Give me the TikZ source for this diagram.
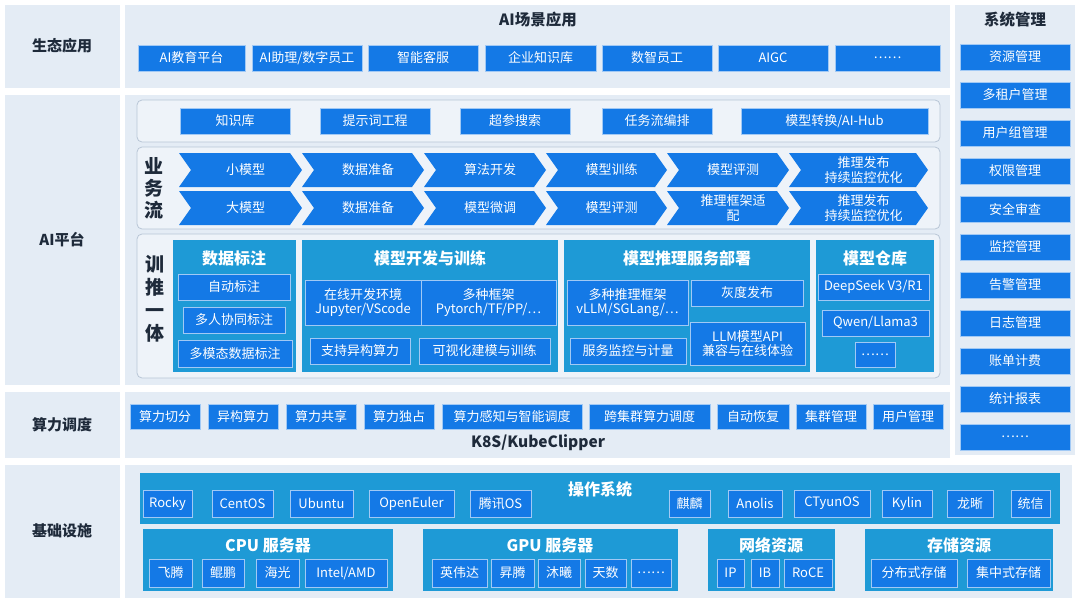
\documentclass[tikz,border=0pt]{standalone}
\usepackage{fontspec}
\setmainfont{Noto Sans CJK SC}
\definecolor{bblue}{HTML}{1479E6}
\definecolor{teal1}{HTML}{1E9AD6}
\definecolor{pale}{HTML}{E4ECF5}
\definecolor{pale2}{HTML}{EEF3F9}
\definecolor{edge}{HTML}{B8C6D6}
\definecolor{dark}{HTML}{1E2A3A}
\begin{document}
\begin{tikzpicture}[x=1pt,y=-1pt,
  bbox/.style={fill=bblue,draw=white!60!bblue,line width=0.6pt,text=white,font=\fontsize{13}{14.5}\selectfont,inner sep=0pt,align=center},
  tpanel/.style={fill=teal1,draw=none},
  lpanel/.style={fill=pale,draw=none},
  ipanel/.style={fill=pale2,draw=edge,line width=0.8pt,rounded corners=5pt},
  lab/.style={text=dark,font=\fontsize{15}{17}\selectfont\bfseries},
  ttl/.style={text=dark,font=\fontsize{15.5}{17}\selectfont\bfseries},
  wttl/.style={text=white,font=\fontsize{16}{17}\selectfont\bfseries},
  chev/.style={fill=bblue,draw=none}]
\useasboundingbox (0,0) rectangle (1080,603);
\fill[white] (0,0) rectangle (1080,603);
\newcommand\bx[6]{\node[bbox,minimum width={#4pt-#2pt},minimum height={#5pt-#3pt}] (#1) at ({(#2+#4)/2},{(#3+#5)/2}) {#6};}
\newcommand\pn[6]{\path[#6] (#2,#3) rectangle (#4,#5) coordinate (#1);}
\newcommand\chv[6]{\path[chev] (#2,#3) -- ({#4-12},#3) -- (#4,{(#3+#5)/2}) -- ({#4-12},#5) -- (#2,#5) -- ({#2+12},{(#3+#5)/2}) -- cycle;
  \node[text=white,font=\fontsize{13}{14.5}\selectfont,align=center,inner sep=0pt] (#1) at ({(#2+#4)/2+5},{(#3+#5)/2}) {#6};}
% left column
\pn{l1}{5}{5}{120}{88}{lpanel}
\pn{l2}{5}{95}{120}{385}{lpanel}
\pn{l3}{5}{392}{120}{458}{lpanel}
\pn{l4}{5}{465}{120}{598}{lpanel}
\node[lab] (t1) at (62,46) {生态应用};
\node[lab] (t2) at (62,240) {AI平台};
\node[lab] (t3) at (62,425) {算力调度};
\node[lab] (t4) at (62,531) {基础设施};
% ecosystem
\pn{p1}{125}{5}{950}{88}{lpanel}
\node[ttl] (aiapp) at (538,20) {AI场景应用};
\bx{a1}{138}{45}{245}{71}{AI教育平台}
\bx{a2}{252}{45}{362}{71}{AI助理/数字员工}
\bx{a3}{368}{45}{478}{71}{智能客服}
\bx{a4}{485}{45}{596}{71}{企业知识库}
\bx{a5}{602}{45}{712}{71}{数智员工}
\bx{a6}{718}{45}{828}{71}{AIGC}
\bx{a7}{835}{45}{940}{71}{……}
% system management
\pn{p2}{955}{5}{1075}{455}{lpanel}
\node[ttl] (sys) at (1015,20) {系统管理};
\foreach \t [count=\i] in {资源管理,多租户管理,用户组管理,权限管理,安全审查,监控管理,告警管理,日志管理,账单计费,统计报表,……}{
  \node[bbox,minimum width=110pt,minimum height=26pt] (s\i) at (1015,{19+38*\i}) {\t};}
% AI platform
\pn{p3}{125}{95}{950}{385}{lpanel}
\path[ipanel] (137,100) rectangle (940,142);
\bx{k1}{180}{108}{290}{134}{知识库}
\bx{k2}{320}{108}{430}{134}{提示词工程}
\bx{k3}{460}{108}{570}{134}{超参搜索}
\bx{k4}{602}{108}{712}{134}{任务流编排}
\bx{k5}{741}{108}{928}{134}{模型转换/AI-Hub}
\path[ipanel] (137,147) rectangle (940,229);
\node[lab,font=\fontsize{19}{21}\selectfont\bfseries,align=center] (ywl) at (154,188) {业\\[1pt]务\\[1pt]流};
\chv{c1}{179}{153}{302}{187}{小模型}
\chv{c2}{302}{153}{424}{187}{数据准备}
\chv{c3}{424}{153}{546}{187}{算法开发}
\chv{c4}{546}{153}{667}{187}{模型训练}
\chv{c5}{667}{153}{789}{187}{模型评测}
\chv{c6}{789}{153}{928}{187}{推理发布\\持续监控优化}
\chv{d1}{179}{191}{302}{225}{大模型}
\chv{d2}{302}{191}{424}{225}{数据准备}
\chv{d3}{424}{191}{546}{225}{模型微调}
\chv{d4}{546}{191}{667}{225}{模型评测}
\chv{d5}{667}{191}{789}{225}{推理框架适\\配}
\chv{d6}{789}{191}{928}{225}{推理发布\\持续监控优化}
\path[ipanel] (137,234) rectangle (940,378);
\node[lab,font=\fontsize{19}{21}\selectfont\bfseries,align=center] (xtyt) at (155,299) {训\\[2pt]推\\[2pt]一\\[2pt]体};
\pn{q1}{173}{240}{296}{372}{tpanel}
\pn{q2}{302}{240}{558}{372}{tpanel}
\pn{q3}{564}{240}{810}{372}{tpanel}
\pn{q4}{816}{240}{934}{372}{tpanel}
\node[wttl] (h1) at (234,258) {数据标注};
\node[wttl] (h2) at (430,258) {模型开发与训练};
\node[wttl] (h3) at (687,258) {模型推理服务部署};
\node[wttl] (h4) at (875,258) {模型仓库};
\bx{e1}{178}{274}{290}{300}{自动标注}
\bx{e2}{183}{307}{285}{333}{多人协同标注}
\bx{e3}{178}{340}{292}{367}{多模态数据标注}
\bx{f1}{305}{280}{421}{325}{在线开发环境\\Jupyter/VScode}
\bx{f2}{421}{280}{556}{325}{多种框架\\Pytorch/TF/PP/…}
\bx{f3}{310}{338}{410}{364}{支持异构算力}
\bx{f4}{419}{338}{550}{364}{可视化建模与训练}
\bx{g1}{567}{280}{688}{325}{多种推理框架\\vLLM/SGLang/…}
\bx{g2}{691}{280}{803}{306}{灰度发布}
\bx{g3}{570}{338}{686}{364}{服务监控与计量}
\bx{g4}{690}{322}{805}{365}{LLM模型API\\兼容与在线体验}
\bx{m1}{818}{274}{929}{300}{DeepSeek V3/R1}
\bx{m2}{822}{310}{929}{336}{Qwen/Llama3}
\bx{m3}{855}{342}{895}{367}{……}
% compute scheduling
\pn{p4}{125}{392}{950}{458}{lpanel}
\bx{r1}{130}{404}{200}{429}{算力切分}
\bx{r2}{208}{404}{278}{429}{异构算力}
\bx{r3}{286}{404}{356}{429}{算力共享}
\bx{r4}{364}{404}{434}{429}{算力独占}
\bx{r5}{442}{404}{582}{429}{算力感知与智能调度}
\bx{r6}{589}{404}{710}{429}{跨集群算力调度}
\bx{r7}{717}{404}{789}{429}{自动恢复}
\bx{r8}{796}{404}{866}{429}{集群管理}
\bx{r9}{873}{404}{943}{429}{用户管理}
\node[ttl] (k8s) at (538,443) {K8S/KubeClipper};
% infrastructure
\pn{p5}{125}{465}{1072}{598}{lpanel}
\pn{os}{140}{473}{1060}{524}{tpanel}
\node[wttl] (osl) at (600,489) {操作系统};
\bx{o1}{143}{490}{192}{517}{Rocky}
\bx{o2}{212}{490}{273}{517}{CentOS}
\bx{o3}{290}{490}{353}{517}{Ubuntu}
\bx{o4}{369}{490}{454}{517}{OpenEuler}
\bx{o5}{470}{490}{531}{517}{腾讯OS}
\bx{o6}{669}{490}{710}{517}{麒麟}
\bx{o7}{728}{490}{782}{517}{Anolis}
\bx{o8}{794}{490}{870}{517}{CTyunOS}
\bx{o9}{882}{490}{932}{517}{Kylin}
\bx{o10}{947}{490}{993}{517}{龙晰}
\bx{o11}{1011}{490}{1050}{517}{统信}
\pn{cpu}{143}{529}{393}{591}{tpanel}
\pn{gpu}{423}{529}{678}{591}{tpanel}
\pn{net}{708}{529}{835}{591}{tpanel}
\pn{sto}{865}{529}{1053}{591}{tpanel}
\node[wttl] (hc) at (268,545) {CPU 服务器};
\node[wttl] (hg) at (550,545) {GPU 服务器};
\node[wttl] (hn) at (771,545) {网络资源};
\node[wttl] (hs) at (959,545) {存储资源};
\bx{u1}{149}{559}{192}{587}{飞腾}
\bx{u2}{202}{559}{244}{587}{鲲鹏}
\bx{u3}{256}{559}{299}{587}{海光}
\bx{u4}{305}{559}{387}{587}{Intel/AMD}
\bx{v1}{432}{559}{487}{587}{英伟达}
\bx{v2}{491}{559}{534}{587}{昇腾}
\bx{v3}{538}{559}{580}{587}{沐曦}
\bx{v4}{585}{559}{626}{587}{天数}
\bx{v5}{631}{559}{671}{587}{……}
\bx{w1}{717}{559}{744}{587}{IP}
\bx{w2}{751}{559}{779}{587}{IB}
\bx{w3}{784}{559}{832}{587}{RoCE}
\bx{z1}{871}{559}{957}{587}{分布式存储}
\bx{z2}{967}{559}{1050}{587}{集中式存储}
\end{tikzpicture}
\end{document}
